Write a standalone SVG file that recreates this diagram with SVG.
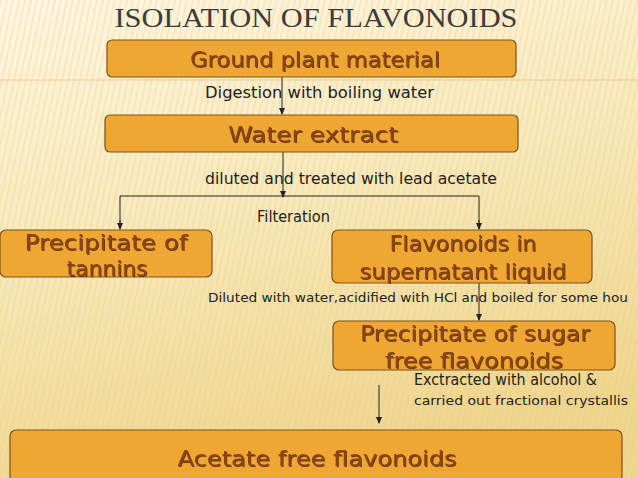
<svg xmlns="http://www.w3.org/2000/svg" width="638" height="478" viewBox="0 0 638 478">
<defs>
<linearGradient id="bg" x1="0" y1="0" x2="0.3" y2="1">
<stop offset="0" stop-color="#fdf6e2"/>
<stop offset="0.5" stop-color="#f8e9bb"/>
<stop offset="1" stop-color="#efd690"/>
</linearGradient>
<pattern id="stripes" width="6" height="40" patternUnits="userSpaceOnUse" patternTransform="skewX(-12)">
<rect x="0" y="0" width="2" height="40" fill="#e6c77a" opacity="0.25"/>
</pattern>
<marker id="arr" markerWidth="8" markerHeight="8" refX="6" refY="4" orient="auto" markerUnits="userSpaceOnUse">
<path d="M0,1 L7,4 L0,7 Z" fill="#222"/>
</marker>
<filter id="sh" x="-5%" y="-20%" width="110%" height="140%">
<feDropShadow dx="1" dy="1" stdDeviation="0.3" flood-color="#4a2208" flood-opacity="0.8"/>
</filter>
</defs>
<style>
.box{fill:#f0a633;stroke:#7a5418;stroke-width:1.2}
.bt{font-family:"Comic Sans MS","DejaVu Sans",sans-serif;font-size:22px;fill:#8a4414;text-anchor:middle;filter:url(#sh)}
.lt{font-family:"Comic Sans MS","DejaVu Sans",sans-serif;font-size:15px;fill:#222}
.sm{font-size:13px}
.ln{stroke:#222;stroke-width:1;fill:none}
</style>
<rect width="638" height="478" fill="url(#bg)"/>
<rect width="638" height="478" fill="url(#stripes)"/>
<line x1="0" y1="80" x2="638" y2="80" stroke="#e8b070" stroke-width="1" opacity="0.6"/>
<text x="316" y="27" font-family="Liberation Serif, serif" font-size="27" fill="#3c3c3c" text-anchor="middle" textLength="403" lengthAdjust="spacingAndGlyphs">ISOLATION OF FLAVONOIDS</text>

<g id="connectors">
<line class="ln" x1="282" y1="77" x2="282" y2="114" marker-end="url(#arr)"/>
<line class="ln" x1="283" y1="152" x2="283" y2="197" marker-end="url(#arr)"/>
<polyline class="ln" points="120,229 120,196 479,196 479,229"/>
<line class="ln" x1="120" y1="220" x2="120" y2="229" marker-end="url(#arr)"/>
<line class="ln" x1="479" y1="220" x2="479" y2="229" marker-end="url(#arr)"/>
<line class="ln" x1="479" y1="283" x2="479" y2="320" marker-end="url(#arr)"/>
<line class="ln" x1="379" y1="385" x2="379" y2="423" marker-end="url(#arr)"/>
</g>

<text class="lt" x="205" y="98" textLength="229" lengthAdjust="spacingAndGlyphs">Digestion with boiling water</text>
<text class="lt" x="205" y="184" textLength="292" lengthAdjust="spacingAndGlyphs">diluted and treated with lead acetate</text>
<text class="lt" x="257" y="222" textLength="73" lengthAdjust="spacingAndGlyphs">Filteration</text>
<text class="lt sm" x="208" y="302" textLength="420" lengthAdjust="spacingAndGlyphs">Diluted with water,acidified with HCl and boiled for some hou</text>
<text class="lt" x="414" y="385" textLength="183" lengthAdjust="spacingAndGlyphs">Exctracted with alcohol &amp;</text>
<text class="lt sm" x="414" y="405" textLength="214" lengthAdjust="spacingAndGlyphs">carried out fractional  crystallis</text>

<g id="n1">
<rect class="box" x="107" y="40" width="409" height="37" rx="5"/>
<text class="bt" x="315" y="67" textLength="250" lengthAdjust="spacingAndGlyphs">Ground plant material</text>
</g>
<g id="n2">
<rect class="box" x="105" y="115" width="413" height="37" rx="5"/>
<text class="bt" x="313" y="142" textLength="170" lengthAdjust="spacingAndGlyphs">Water extract</text>
</g>
<g id="n3">
<rect class="box" x="0" y="230" width="212" height="47" rx="6"/>
<text class="bt" x="106" y="250" textLength="163" lengthAdjust="spacingAndGlyphs">Precipitate of</text>
<text class="bt" x="107" y="276" textLength="81" lengthAdjust="spacingAndGlyphs">tannins</text>
</g>
<g id="n4">
<rect class="box" x="332" y="230" width="260" height="53" rx="6"/>
<text class="bt" x="463" y="251" textLength="147" lengthAdjust="spacingAndGlyphs">Flavonoids in</text>
<text class="bt" x="463" y="279" textLength="207" lengthAdjust="spacingAndGlyphs">supernatant liquid</text>
</g>
<g id="n5">
<rect class="box" x="333" y="321" width="282" height="49" rx="6"/>
<text class="bt" x="475" y="341" textLength="230" lengthAdjust="spacingAndGlyphs">Precipitate of sugar</text>
<text class="bt" x="474" y="368" textLength="178" lengthAdjust="spacingAndGlyphs">free flavonoids</text>
</g>
<g id="n6">
<rect class="box" x="10" y="430" width="612" height="52" rx="6"/>
<text class="bt" x="317" y="466" textLength="279" lengthAdjust="spacingAndGlyphs">Acetate free flavonoids</text>
</g>
</svg>
